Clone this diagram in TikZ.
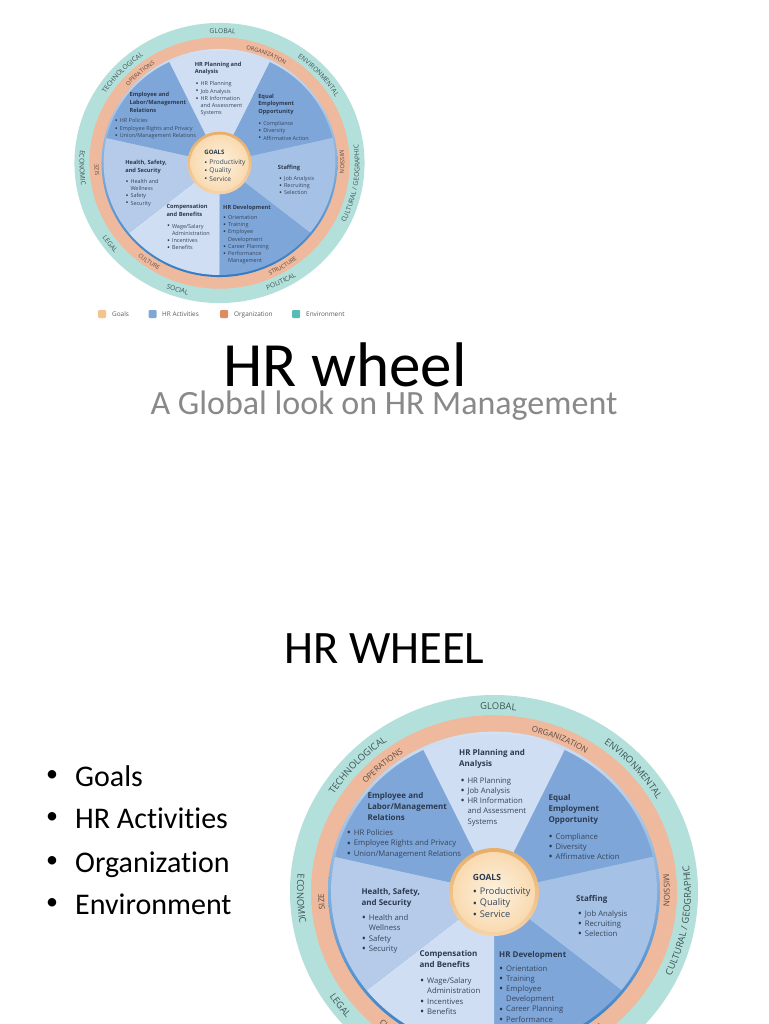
\documentclass[tikz,border=0pt]{standalone}
\usepackage{fontspec}
\setmainfont{Open Sans}
\newfontfamily\slidefont[Ligatures=NoCommon]{Carlito}
\usetikzlibrary{decorations.text}
\definecolor{tealring}{HTML}{B4E0DC}
\definecolor{orangering}{HTML}{EEB99C}
\definecolor{secdark}{HTML}{7FA6D9}
\definecolor{secmid}{HTML}{A6C1E6}
\definecolor{sechealth}{HTML}{B6CBE9}
\definecolor{seclight}{HTML}{CFDEF2}
\definecolor{headtxt}{HTML}{2B3A4E}
\definecolor{bodytxt}{HTML}{36465A}
\definecolor{arctxt}{HTML}{3C5556}
\definecolor{orgtxt}{HTML}{5A4A42}
\definecolor{gray1}{HTML}{898989}
\definecolor{rimtop}{HTML}{D3E1F3}
\definecolor{rimmid}{HTML}{7DA8DC}
\definecolor{rimbot}{HTML}{2F7BC4}
\definecolor{goalrimtop}{HTML}{E8AE6A}
\definecolor{goalrimbot}{HTML}{F6D3A6}
\definecolor{goalin}{HTML}{FCF2E0}
\definecolor{goalout}{HTML}{F9DAB0}
\definecolor{leggoal}{HTML}{F4C38E}
\definecolor{legorg}{HTML}{E08A60}
\definecolor{legenv}{HTML}{56BDB5}
\newcommand{\arcfont}{\fontsize{9.4}{11}\selectfont}
\newcommand{\orgfont}{\fontsize{8}{10}\selectfont}
\newcommand{\wsec}[3]{\fill[#3] (0,0) -- ({#1}:{163} and {157.5}) arc[start angle=#1,end angle=#2,x radius=163,y radius=157.5] -- cycle;}
\newcommand{\arccw}[5]{\path[decorate,decoration={text along path,text align=center,text color=#5,text={|#4|#3}}] ({#1+45}:{#2} and {.966*#2}) arc[start angle=#1+45,end angle=#1-45,x radius=#2,y radius=.966*#2];}
\newcommand{\arcccw}[5]{\path[decorate,decoration={text along path,text align=center,text color=#5,text={|#4|#3}}] ({#1-45}:{#2} and {.966*#2}) arc[start angle=#1-45,end angle=#1+45,x radius=#2,y radius=.966*#2];}
\newcommand{\whead}[4]{\node[headstyle] (#1) at ({(#2-642)/3},{(605-#3)/3}) {#4};}
\newcommand{\wbody}[4]{\node[bodystyle] (#1) at ({(#2-642)/3},{(605-#3)/3}) {#4};}
\newcommand{\bl}{\makebox[7pt][l]{\raisebox{-1.1pt}{\fontsize{11}{0}\selectfont\textcolor{headtxt}{\textbullet}}}}
\newcommand{\cn}{\hspace*{7pt}}
\newcommand{\wheel}[1]{%
  \fill[tealring] (0,0) ellipse [x radius=204,y radius=197];
  \fill[orangering] (0,0) ellipse [x radius=183,y radius=176.8];
  \shade[top color=rimtop,middle color=rimmid,bottom color=rimbot] (0,0) ellipse [x radius=166,y radius=160.4];
  \wsec{64.3}{115.7}{seclight}
  \wsec{12.9}{64.3}{secdark}
  \wsec{-38.6}{12.9}{secmid}
  \wsec{-90}{-38.6}{secdark}
  \wsec{-141.4}{-90}{seclight}
  \wsec{167.1}{218.6}{sechealth}
  \wsec{115.7}{167.1}{secdark}
  \shade[top color=goalrimtop,bottom color=goalrimbot] (0,0) ellipse [x radius=45,y radius=44];
  \shade[inner color=goalin,outer color=goalout] (0,0) ellipse [x radius=41,y radius=40];
  \arccw{88.7}{189}{GLOBAL}{\arcfont}{arctxt}
  \arccw{42}{189}{ENVIRONMENTAL}{\arcfont}{arctxt}
  \arccw{136.6}{189}{TECHNOLOGICAL}{\arcfont}{arctxt}
  \arcccw{182}{197}{ECONOMIC}{\arcfont}{arctxt}
  \arcccw{217}{197}{LEGAL}{\arcfont}{arctxt}
  \arcccw{252}{197}{SOCIAL}{\arcfont}{arctxt}
  \arcccw{-63}{197}{POLITICAL}{\arcfont}{arctxt}
  \arcccw{-9}{197}{CULTURAL / GEOGRAPHIC}{\arcfont}{arctxt}
  \arccw{67}{170}{ORGANIZATION}{\orgfont}{orgtxt}
  \arccw{131}{170}{OPERATIONS}{\orgfont}{orgtxt}
  \arccw{0.5}{170}{MISSION}{\orgfont}{orgtxt}
  \arccw{183.3}{170}{SIZE}{\orgfont}{orgtxt}
  \arcccw{235}{178}{CULTURE}{\orgfont}{orgtxt}
  \arcccw{-59}{178}{STRUCTURE}{\orgfont}{orgtxt}
  \whead{#1h1}{537}{177}{HR Planning and\\Analysis}
  \wbody{#1b1}{541}{261}{\bl HR Planning\\\bl Job Analysis\\\bl HR Information\\\cn and Assessment\\\cn Systems}
  \whead{#1h2}{805}{312}{Equal\\Employment\\Opportunity}
  \wbody{#1b2}{805}{429}{\bl Compliance\\\bl Diversity\\\bl Affirmative Action}
  \whead{#1h3}{888}{614}{Staffing}
  \wbody{#1b3}{893}{660}{\bl Job Analysis\\\bl Recruiting\\\bl Selection}
  \whead{#1h4}{657}{782}{HR Development}
  \wbody{#1b4}{657}{825}{\bl Orientation\\\bl Training\\\bl Employee\\\cn Development\\\bl Career Planning\\\bl Performance\\\cn Management}
  \whead{#1h5}{418}{780}{Compensation\\and Benefits}
  \wbody{#1b5}{420}{862}{\bl Wage/Salary\\\cn Administration\\\bl Incentives\\\bl Benefits}
  \whead{#1h6}{244}{593}{Health, Safety,\\and Security}
  \wbody{#1b6}{245}{673}{\bl Health and\\\cn Wellness\\\bl Safety\\\bl Security}
  \whead{#1h7}{262}{305}{Employee and\\Labor/Management\\Relations}
  \wbody{#1b7}{200}{418}{\bl HR Policies\\\bl Employee Rights and Privacy\\\bl Union/Management Relations}
  \node[headstyle,font=\bfseries\fontsize{8.5}{11}\selectfont] (#1g) at ({(578-642)/3},{(605-551)/3}) {GOALS};
  \node[bodystyle,font=\fontsize{9.2}{11.7}\selectfont] (#1gb) at ({(578-642)/3},{(605-590)/3}) {\bl Productivity\\\bl Quality\\\bl Service};
}
\tikzset{
  headstyle/.style={anchor=north west,inner sep=0pt,align=left,text=headtxt,font=\bfseries\fontsize{8}{11}\selectfont},
  bodystyle/.style={anchor=north west,inner sep=0pt,align=left,text=bodytxt,font=\fontsize{7.7}{10.2}\selectfont},
  legbox/.style={rounded corners=1pt,minimum size=8pt,inner sep=0pt},
  legtxt/.style={anchor=base west,inner sep=0pt,text=black!65,font=\fontsize{6.4}{8}\selectfont},
  slidebullet/.style={inner sep=0pt,font=\slidefont\fontsize{24}{32}\selectfont},
  slideline/.style={anchor=base west,inner sep=0pt,font=\slidefont\fontsize{30}{36}\selectfont}
}
\begin{document}
\begin{tikzpicture}[x=1pt,y=1pt]
\useasboundingbox (0,0) rectangle (768,-1024);
\clip (0,0) rectangle (768,-1024);
\fill[white] (0,0) rectangle (768,-1024);
\begin{scope}[transform canvas={shift={(219.5,-163)},scale=.711}]
  \wheel{a}
\end{scope}
\begin{scope}[transform canvas={shift={(494,-892)},scale=1}]
  \wheel{b}
\end{scope}
\node[legbox,fill=leggoal] (lg1) at (102,-314) {};
\node[legtxt] (lt1) at (112,-316.2) {Goals};
\node[legbox,fill=secdark] (lg2) at (152.5,-314) {};
\node[legtxt] (lt2) at (162,-316.2) {HR Activities};
\node[legbox,fill=legorg] (lg3) at (224,-314) {};
\node[legtxt] (lt3) at (234,-316.2) {Organization};
\node[legbox,fill=legenv] (lg4) at (296,-314) {};
\node[legtxt] (lt4) at (306,-316.2) {Environment};
\node[anchor=base,inner sep=0pt,font=\slidefont\fontsize{63}{70}\selectfont] (title1) at (345,-386) {HR wheel};
\node[anchor=base,inner sep=0pt,text=gray1,font=\slidefont\fontsize{34}{38}\selectfont] (sub1) at (384,-414) {A Global look on HR Management};
\node[inner sep=0pt,font=\slidefont\fontsize{46.5}{50}\selectfont] (title2) at (384.5,-649) {HR WHEEL};
\foreach \n/\yb/\yd/\lbl in {1/786.5/776/Goals,2/828.5/818/HR Activities,3/872.5/862/Organization,4/914.5/904/Environment}{
  \node[slidebullet] (bd\n) at (52,-\yd) {\textbullet};
  \node[slideline] (bt\n) at (75,-\yb) {\lbl};
}
\end{tikzpicture}
\end{document}
